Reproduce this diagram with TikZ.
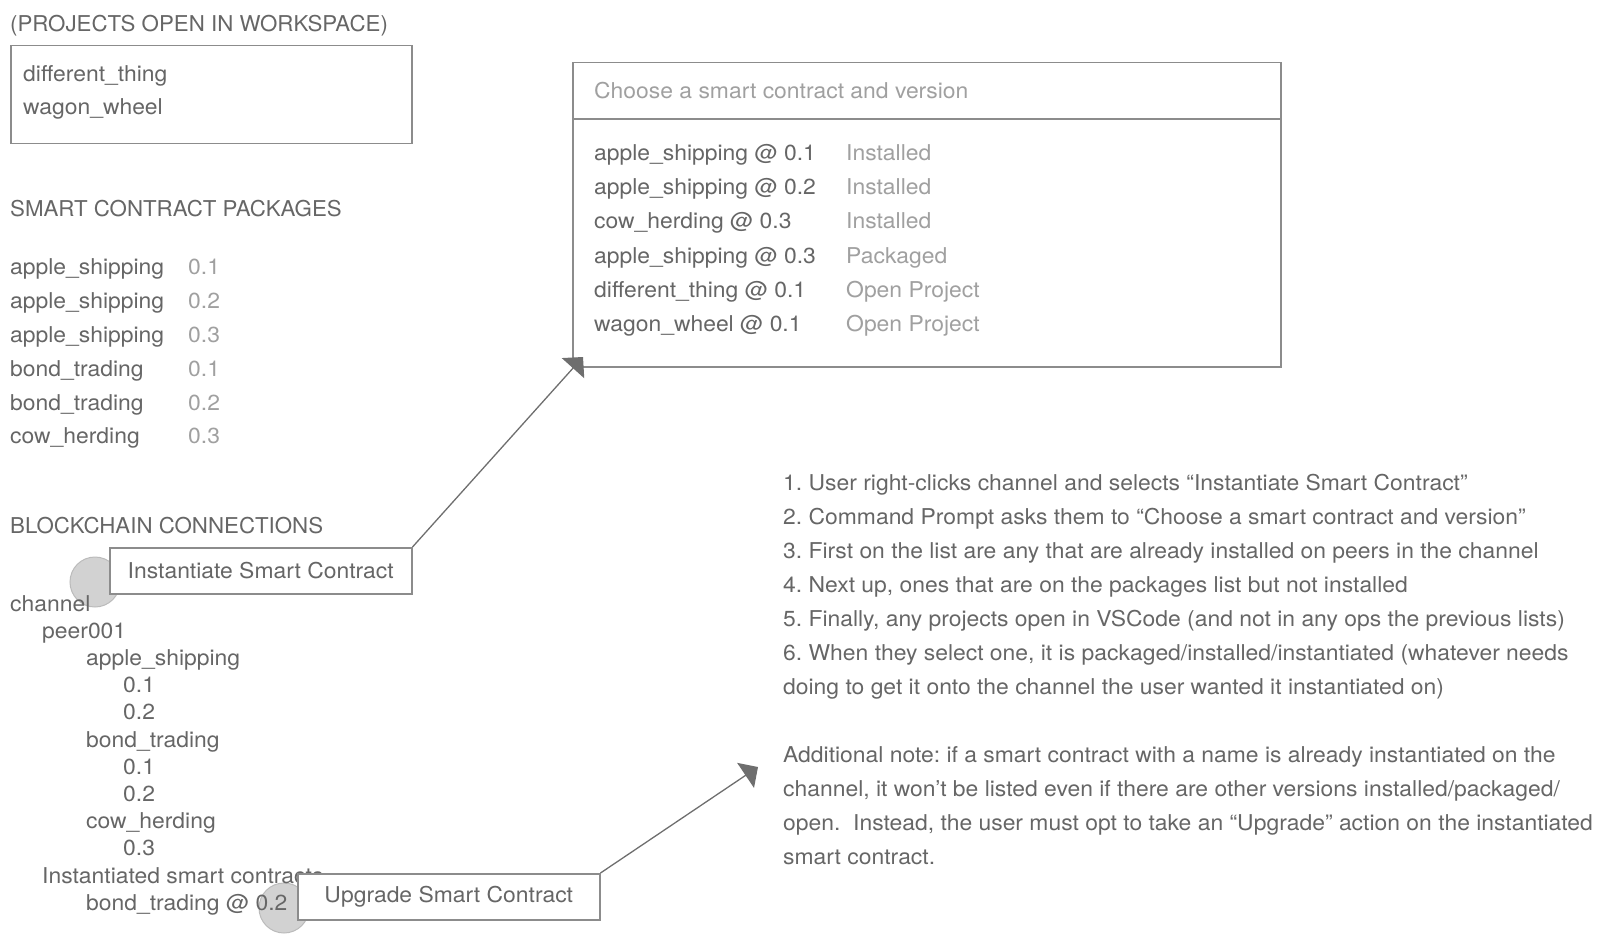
\documentclass[tikz,border=0pt]{standalone}
\usepackage{fontspec}
\setmainfont[FakeStretch=1.05]{TeX Gyre Heros}
\newfontfamily\capsfont[FakeStretch=1.022]{TeX Gyre Heros}
\usetikzlibrary{arrows.meta}
\definecolor{txt}{HTML}{666666}
\definecolor{lt}{HTML}{A0A0A0}
\definecolor{bd}{HTML}{8C8C8C}
\definecolor{cf}{HTML}{D2D2D2}
\definecolor{cb}{HTML}{BBBBBB}
\definecolor{ar}{HTML}{6E6E6E}
\frenchspacing
\begin{document}
\begin{tikzpicture}[x=1pt,y=-1pt,
  t/.style={anchor=base west, inner sep=0pt, text=txt, font=\fontsize{21.8}{26}\selectfont},
  tl/.style={t, text=lt},
  th/.style={t, font=\capsfont\fontsize{21.8}{26}\selectfont},
  frame/.style={draw=bd, line width=1.5pt, fill=white, anchor=north west, inner sep=0pt},
  btn/.style={frame, text=txt, font=\fontsize{21.8}{26}\selectfont, minimum width=302pt, minimum height=46pt},
  dot/.style={circle, draw=cb, line width=1pt, fill=cf, minimum size=50pt, inner sep=0pt},
  conn/.style={draw=ar, line width=1.3pt, -{Triangle[length=15pt,width=30pt]}}]
\useasboundingbox (0,0) rectangle (1614,944);
% circles (behind everything)
\node[dot] (c1) at (95,582) {};
\node[dot] (c2) at (284,908) {};
% workspace
\node[th] (hws) at (10,32) {(PROJECTS OPEN IN WORKSPACE)};
\node[frame, minimum width=401pt, minimum height=98pt] (ws) at (10,45) {};
\node[t] (ws1) at (23,82) {different\_thing};
\node[t] (ws2) at (23,115) {wagon\_wheel};
% packages
\node[th] (hpk) at (10,217) {SMART CONTRACT PACKAGES};
\node[t] (p1) at (10,274) {apple\_shipping};
\node[tl] (v1) at (188,274) {0.1};
\node[t] (p2) at (10,308) {apple\_shipping};
\node[tl] (v2) at (188,308) {0.2};
\node[t] (p3) at (10,342) {apple\_shipping};
\node[tl] (v3) at (188,342) {0.3};
\node[t] (p4) at (10,376) {bond\_trading};
\node[tl] (v4) at (188,376) {0.1};
\node[t] (p5) at (10,410) {bond\_trading};
\node[tl] (v5) at (188,410) {0.2};
\node[t] (p6) at (10,443) {cow\_herding};
\node[tl] (v6) at (188,443) {0.3};
% blockchain tree
\node[th] (hbc) at (10,533) {BLOCKCHAIN CONNECTIONS};
\node[t] (b1) at (10,611) {channel};
\node[t] (b2) at (42,638.2) {peer001};
\node[t] (b3) at (86,665.4) {apple\_shipping};
\node[t] (b4) at (123,692.6) {0.1};
\node[t] (b5) at (123,719.8) {0.2};
\node[t] (b6) at (86,747) {bond\_trading};
\node[t] (b7) at (123,774.2) {0.1};
\node[t] (b8) at (123,801.4) {0.2};
\node[t] (b9) at (86,828.6) {cow\_herding};
\node[t] (b10) at (123,855.8) {0.3};
\node[t] (b11) at (42,883) {Instantiated smart contracts};
\node[t] (b12) at (86,910.2) {bond\_trading @ 0.2};
% buttons
\node[btn] (inst) at (109,547) {Instantiate Smart Contract};
\node[btn] (upg) at (297,873) {Upgrade Smart Contract};
% quick pick box
\node[frame, minimum width=708pt, minimum height=304pt] (qp) at (572,62) {};
\coordinate (dl) at (572,119);
\coordinate (dr) at (1280,119);
\draw[draw=bd, line width=1.5pt] (dl) -- (dr);
\node[tl] (qh) at (594,99) {Choose a smart contract and version};
\node[t] (q1) at (594,161) {apple\_shipping @ 0.1};
\node[tl] (s1) at (846,161) {Installed};
\node[t] (q2) at (594,195) {apple\_shipping @ 0.2};
\node[tl] (s2) at (846,195) {Installed};
\node[t] (q3) at (594,229) {cow\_herding @ 0.3};
\node[tl] (s3) at (846,229) {Installed};
\node[t] (q4) at (594,263) {apple\_shipping @ 0.3};
\node[tl] (s4) at (846,263) {Packaged};
\node[t] (q5) at (594,297) {different\_thing @ 0.1};
\node[tl] (s5) at (846,297) {Open Project};
\node[t] (q6) at (594,331) {wagon\_wheel @ 0.1};
\node[tl] (s6) at (846,331) {Open Project};
% notes
\node[t] (n1) at (783,490) {1. User right-clicks channel and selects “Instantiate Smart Contract”};
\node[t] (n2) at (783,524) {2. Command Prompt asks them to “Choose a smart contract and version”};
\node[t] (n3) at (783,558) {3. First on the list are any that are already installed on peers in the channel};
\node[t] (n4) at (783,592) {4. Next up, ones that are on the packages list but not installed};
\node[t] (n5) at (783,626) {5. Finally, any projects open in VSCode (and not in any ops the previous lists)};
\node[t] (n6) at (783,660) {6. When they select one, it is packaged/installed/instantiated (whatever needs};
\node[t] (n7) at (783,694) {doing to get it onto the channel the user wanted it instantiated on)};
\node[t] (n8) at (783,762) {Additional note: if a smart contract with a name is already instantiated on the};
\node[t] (n9) at (783,796) {channel, it won’t be listed even if there are other versions installed/packaged/};
\node[t] (n10) at (783,830) {open.\ \ Instead, the user must opt to take an “Upgrade” action on the instantiated};
\node[t] (n11) at (783,864) {smart contract.};
% connectors
\coordinate (tip1) at (583,357);
\coordinate (tip2) at (758,767);
\draw[conn] (inst.north east) -- (tip1);
\draw[conn] (upg.north east) -- (tip2);
\end{tikzpicture}
\end{document}
